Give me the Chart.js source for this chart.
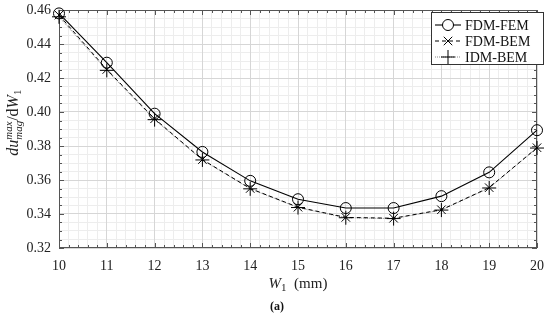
<!DOCTYPE html>
<html>
<head>
<meta charset="utf-8">
<script src="https://cdn.jsdelivr.net/npm/chart.js@4"></script>
<style>
  html, body { margin: 0; padding: 0; background: #fff; }
  #wrap { width: 550px; height: 324px; }
</style>
</head>
<body>
<div id="wrap"><canvas id="grafico" width="550" height="324"></canvas></div>
<script>
const larguras = [10, 11, 12, 13, 14, 15, 16, 17, 18, 19, 20];
const fdmFem = [0.458, 0.429, 0.399, 0.3765, 0.3595, 0.3487, 0.3435, 0.3435, 0.3505, 0.3645, 0.3893];
const fdmBem = [0.457, 0.425, 0.396, 0.372, 0.355, 0.3440, 0.3380, 0.3375, 0.3425, 0.3555, 0.3790];
const idmBem = [0.456, 0.4245, 0.3955, 0.3718, 0.3548, 0.3438, 0.3378, 0.3373, 0.3423, 0.3553, 0.3788];
const yTicks = [0.32, 0.34, 0.36, 0.38, 0.40, 0.42, 0.44, 0.46];
const nomes = ['FDM-FEM', 'FDM-BEM', 'IDM-BEM'];

const serif = '"Liberation Serif", "DejaVu Serif", serif';
const pts = arr => arr.map((v, i) => ({ x: larguras[i], y: v }));

// desenha texto com partes (sub/sobrescrito)
function textoRico(ctx, partes, cx, cy) {
  let total = 0;
  partes.forEach(p => {
    ctx.font = p.font;
    p.w = ctx.measureText(p.t).width;
    if (!p.stack) total += p.w;
  });
  let x = cx - total / 2;
  let ultimo = 0;
  partes.forEach(p => {
    ctx.font = p.font;
    if (p.stack) x -= ultimo;
    ctx.fillText(p.t, x, cy + (p.dy || 0));
    ultimo = p.w;
    x += p.w;
  });
}

const extras = {
  id: 'extras',
  beforeDatasetsDraw(chart) {
    const ctx = chart.ctx;
    const xs = chart.scales.x, ys = chart.scales.y;
    const a = chart.chartArea;
    ctx.save();
    // caixa e ticks internos
    ctx.strokeStyle = '#555';
    ctx.lineWidth = 1;
    ctx.strokeRect(a.left + 0.5, a.top + 0.5, a.right - a.left - 1, a.bottom - a.top - 1);
    ctx.beginPath();
    for (let i = 0; i <= 50; i++) {
      const v = 10 + i * 0.2;
      const px = Math.round(xs.getPixelForValue(v)) + 0.5;
      const L = i % 5 === 0 ? 5 : 3;
      ctx.moveTo(px, a.bottom); ctx.lineTo(px, a.bottom - L);
      ctx.moveTo(px, a.top); ctx.lineTo(px, a.top + L);
    }
    for (let i = 0; i <= 28; i++) {
      const v = 0.32 + i * 0.005;
      const py = Math.round(ys.getPixelForValue(v)) + 0.5;
      const L = i % 4 === 0 ? 5 : 3;
      ctx.moveTo(a.left, py); ctx.lineTo(a.left + L, py);
      ctx.moveTo(a.right, py); ctx.lineTo(a.right - L, py);
    }
    ctx.stroke();
    ctx.restore();
  },
  afterDraw(chart) {
    const ctx = chart.ctx;
    const a = chart.chartArea;
    ctx.save();
    // legenda
    const lx = 431, ly = 12, lw = 112, lh = 52;
    ctx.fillStyle = '#fff';
    ctx.fillRect(lx, ly, lw, lh);
    ctx.strokeStyle = '#333';
    ctx.strokeRect(lx + 0.5, ly + 0.5, lw, lh);
    chart.data.datasets.forEach((ds, i) => {
      const y = ly + 13 + i * 16;
      ctx.strokeStyle = ds.borderColor;
      ctx.lineWidth = ds.borderWidth;
      ctx.setLineDash(ds.borderDash || []);
      ctx.beginPath(); ctx.moveTo(lx + 4, y); ctx.lineTo(lx + 30, y); ctx.stroke();
      ctx.setLineDash([]);
      ctx.strokeStyle = '#000';
      ctx.lineWidth = 1;
      Chart.helpers.drawPoint(ctx, { pointStyle: ds.pointStyle, radius: ds.pointRadius, borderWidth: 1, rotation: 0 }, lx + 17, y);
      ctx.fillStyle = '#111';
      ctx.font = '14px ' + serif;
      ctx.textBaseline = 'middle';
      ctx.textAlign = 'left';
      ctx.fillText(ds.label, lx + 34, y + 1);
    });

    // titulo eixo x
    ctx.fillStyle = '#222';
    ctx.textBaseline = 'alphabetic';
    textoRico(ctx, [
      { t: 'W', font: 'italic 15px ' + serif },
      { t: '1', font: '11px ' + serif, dy: 3 },
      { t: '  (mm)', font: '15px ' + serif }
    ], (a.left + a.right) / 2, 288);

    // titulo eixo y
    ctx.save();
    ctx.translate(13, 123);
    ctx.rotate(-Math.PI / 2);
    textoRico(ctx, [
      { t: 'du', font: 'italic 16px ' + serif },
      { t: 'max', font: 'italic 11px ' + serif, dy: -6 },
      { t: 'mag', font: 'italic 11px ' + serif, dy: 4, stack: true },
      { t: '/d', font: '16px ' + serif },
      { t: 'W', font: 'italic 16px ' + serif },
      { t: '1', font: '11px ' + serif, dy: 3 }
    ], 0, 5);
    ctx.restore();

    // legenda da figura
    ctx.font = 'bold 12px ' + serif;
    ctx.textAlign = 'center';
    ctx.fillStyle = '#111';
    ctx.fillText('(a)', 277, 310);
    ctx.restore();
  }
};

const ctx = document.getElementById('grafico').getContext('2d');
const grafico = new Chart(ctx, {
  type: 'line',
  data: {
    datasets: [
      {
        label: nomes[0], data: pts(fdmFem), clip: false,
        borderColor: '#000', borderWidth: 1.1,
        pointStyle: 'circle', pointRadius: 5.5, pointBorderColor: '#000',
        pointBackgroundColor: 'rgba(0,0,0,0)', pointBorderWidth: 1
      },
      {
        label: nomes[1], data: pts(fdmBem), clip: false,
        borderColor: '#000', borderWidth: 1, borderDash: [4, 3],
        pointStyle: 'crossRot', pointRadius: 6, pointBorderColor: '#000', pointBorderWidth: 1
      },
      {
        label: nomes[2], data: pts(idmBem), clip: false,
        borderColor: '#888', borderWidth: 1, borderDash: [1, 1],
        pointStyle: 'cross', pointRadius: 7, pointBorderColor: '#000', pointBorderWidth: 1
      }
    ]
  },
  options: {
    responsive: false,
    animation: false,
    layout: { padding: { top: 10, right: 13, left: 0, bottom: 0 } },
    plugins: { legend: { display: false }, tooltip: { enabled: false } },
    scales: {
      xm: {
        type: 'linear', position: 'bottom', min: 10, max: 20,
        ticks: { display: false, stepSize: 0.2 },
        grid: { color: '#ededed', drawTicks: false },
        border: { display: false },
        afterFit: s => { s.height = 0; }
      },
      ym: {
        type: 'linear', position: 'left', min: 0.32, max: 0.46,
        ticks: { display: false, stepSize: 0.005 },
        grid: { color: '#ededed', drawTicks: false },
        border: { display: false },
        afterFit: s => { s.width = 0; }
      },
      x: {
        type: 'linear', position: 'bottom', min: 10, max: 20,
        ticks: { stepSize: 1, color: '#222', font: { family: serif, size: 14 }, padding: 10, maxRotation: 0 },
        grid: { color: '#d6d6d6', drawTicks: false },
        border: { display: false },
        afterFit: s => { s.height = 76; s.paddingLeft = 0; s.paddingRight = 0; }
      },
      y: {
        type: 'linear', position: 'left', min: 0.32, max: 0.46,
        afterBuildTicks: s => { s.ticks = yTicks.map(v => ({ value: v })); },
        ticks: { color: '#222', font: { family: serif, size: 14 }, padding: 8, callback: v => v.toFixed(2) },
        grid: { color: '#d6d6d6', drawTicks: false },
        border: { display: false },
        afterFit: s => { s.width = 59; s.paddingTop = 0; s.paddingBottom = 0; }
      }
    }
  },
  plugins: [extras]
});
</script>
</body>
</html>
